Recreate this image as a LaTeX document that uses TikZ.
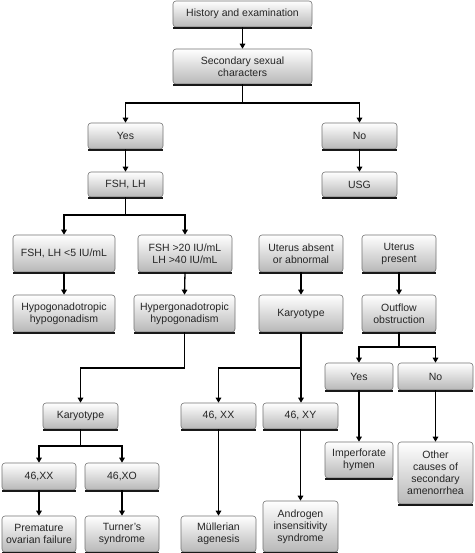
\documentclass[tikz,border=0pt]{standalone}
\usepackage{fontspec}
\setmainfont{Liberation Sans}
\usetikzlibrary{arrows.meta}
\tikzset{
  x=1pt, y=-1pt,
  bx/.style={draw=black!55, line width=0.6pt, rounded corners=3pt, top color=white, bottom color=black!28,
    align=center, inner sep=1pt, font=\fontsize{10.5}{12}\selectfont, text=black!85},
  arr/.style={line width=1.3pt, -{Triangle[length=5pt,width=5.5pt]}},
  lnk/.style={line width=1.3pt},
  bbar/.style={line width=2.2pt, black!90},
}
\begin{document}
\begin{tikzpicture}
\useasboundingbox (0,0) rectangle (474,553);
\fill[white] (0,0) rectangle (474,553);
% nodes
\node[bx, minimum width=139pt, minimum height=26pt] (hist) at (242.5,14) {History and examination};
\node[bx, minimum width=139pt, minimum height=35pt] (ssc) at (242.5,66.5) {Secondary sexual\\characters};
\node[bx, minimum width=75pt, minimum height=26pt] (yes1) at (125.5,136) {Yes};
\node[bx, minimum width=75pt, minimum height=26pt] (no1) at (359.5,136) {No};
\node[bx, minimum width=75pt, minimum height=25pt] (fsh) at (125.5,184.5) {FSH, LH};
\node[bx, minimum width=75pt, minimum height=25pt] (usg) at (359.5,184.5) {USG};
\node[bx, minimum width=102pt, minimum height=37pt] (low) at (64,253.5) {FSH, LH <5 IU/mL};
\node[bx, minimum width=94pt, minimum height=37pt] (high) at (185,253.5) {FSH >20 IU/mL\\LH >40 IU/mL};
\node[bx, minimum width=84pt, minimum height=37pt] (uabs) at (301,253.5) {Uterus absent\\or abnormal};
\node[bx, minimum width=74pt, minimum height=37pt] (upres) at (399,253.5) {Uterus\\present};
\node[bx, minimum width=102pt, minimum height=37pt] (hypo) at (64,313.5) {Hypogonadotropic\\hypogonadism};
\node[bx, minimum width=101pt, minimum height=37pt] (hyper) at (184.5,313.5) {Hypergonadotropic\\hypogonadism};
\node[bx, minimum width=84pt, minimum height=37pt] (kar2) at (301,313.5) {Karyotype};
\node[bx, minimum width=74pt, minimum height=37pt] (outf) at (399,313.5) {Outflow\\obstruction};
\node[bx, minimum width=68pt, minimum height=27pt] (yes2) at (359,376.5) {Yes};
\node[bx, minimum width=75pt, minimum height=27pt] (no2) at (435.5,376.5) {No};
\node[bx, minimum width=75pt, minimum height=26pt] (kar1) at (80.5,416) {Karyotype};
\node[bx, minimum width=75pt, minimum height=26pt] (xx2) at (218.5,416) {46, XX};
\node[bx, minimum width=75pt, minimum height=26pt] (xy) at (300.5,416) {46, XY};
\node[bx, minimum width=74pt, minimum height=27pt] (xx1) at (39,476.5) {46,XX};
\node[bx, minimum width=74pt, minimum height=27pt] (xo) at (122,476.5) {46,XO};
\node[bx, minimum width=74pt, minimum height=36pt] (pof) at (39,534) {Premature\\ovarian failure};
\node[bx, minimum width=74pt, minimum height=36pt] (turner) at (122,534) {Turner's\\syndrome};
\node[bx, minimum width=75pt, minimum height=36pt] (mull) at (218.5,534) {Müllerian\\agenesis};
\node[bx, minimum width=75pt, minimum height=51pt] (ais) at (300.5,526.5) {Androgen\\insensitivity\\syndrome};
\node[bx, minimum width=68pt, minimum height=36pt] (imp) at (359,460) {Imperforate\\hymen};
\node[bx, minimum width=75pt, minimum height=62pt] (other) at (435.5,473) {Other\\causes of\\secondary\\amenorrhea};
% bottom bars
\foreach \n in {hist,ssc,yes1,no1,fsh,usg,low,high,uabs,upres,hypo,hyper,kar2,outf,yes2,no2,kar1,xx2,xy,xx1,xo,pof,turner,mull,ais,imp,other}
  \draw[bbar] ([xshift=0.5pt,yshift=-0.6pt]\n.south west) -- ([xshift=-0.5pt,yshift=-0.6pt]\n.south east);
% bus coordinates
\coordinate (b1) at (242.5,103);
\coordinate (b2) at (125.5,215);
\coordinate (b3) at (184.5,368);
\coordinate (b4) at (301,368);
\coordinate (b5) at (399,347);
\coordinate (b6) at (80.5,446);
% connectors
\draw[arr] (hist.south) -- (ssc.north);
\draw[arr] (ssc.south) -- (b1) -| (yes1.north);
\draw[arr] (b1) -| (no1.north);
\draw[arr] (yes1.south) -- (fsh.north);
\draw[arr] (no1.south) -- (usg.north);
\draw[arr] (fsh.south) -- (b2) -| (low.north);
\draw[arr] (b2) -| (high.north);
\draw[arr] (low.south) -- (hypo.north);
\draw[arr] (high.south) -- (hyper.north);
\draw[arr] (uabs.south) -- (kar2.north);
\draw[arr] (upres.south) -- (outf.north);
\draw[arr] (hyper.south) -- (b3) -| (kar1.north);
\draw[arr] (kar2.south) -- (b4) -| (xx2.north);
\draw[arr] (b4) -- (xy.north -| b4);
\draw[arr] (outf.south) -- (b5) -| (yes2.north);
\draw[arr] (b5) -| (no2.north);
\draw[arr] (kar1.south) -- (b6) -| (xx1.north);
\draw[arr] (b6) -| (xo.north);
\draw[arr] (xx1.south) -- (pof.north);
\draw[arr] (xo.south) -- (turner.north);
\draw[arr] (xx2.south) -- (mull.north);
\draw[arr] (xy.south) -- (ais.north);
\draw[arr] (yes2.south) -- (imp.north);
\draw[arr] (no2.south) -- (other.north);
\end{tikzpicture}
\end{document}
